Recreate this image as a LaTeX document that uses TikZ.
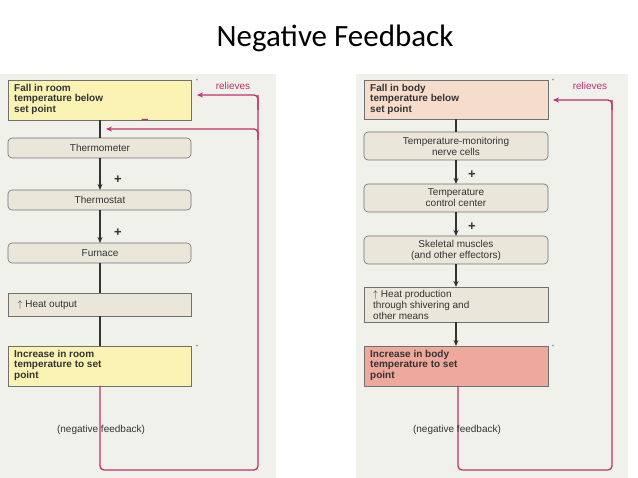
\documentclass[tikz,border=0pt]{standalone}
\usepackage{fontspec}
\setmainfont{Liberation Sans}
\newfontfamily\titlefont{Carlito}
\usetikzlibrary{arrows.meta}
\definecolor{paper}{HTML}{F1F1EC}
\definecolor{yel}{HTML}{FBF3B4}
\definecolor{peach}{HTML}{F6DCCB}
\definecolor{pinkbox}{HTML}{EEA89C}
\definecolor{gbox}{HTML}{EAE6DA}
\definecolor{mag}{HTML}{C0306E}
\definecolor{ink}{HTML}{333333}
\begin{document}
\begin{tikzpicture}[x=1pt,y=-1pt,
  every node/.style={font=\fontsize{10}{11}\selectfont, text=ink},
  box/.style={draw=ink!70, line width=0.6pt, inner sep=0pt},
  rbox/.style={box, fill=gbox, rounded corners=4pt},
  hd/.style={font=\fontsize{10}{10.5}\selectfont\bfseries, align=left, anchor=north west, inner sep=0pt},
  arr/.style={-{Stealth[length=6pt,width=5pt]}, line width=2pt, draw=ink},
  fb/.style={mag, line width=1.3pt, rounded corners=4pt},
  fba/.style={fb, -{Stealth[length=6pt,width=5pt]}},
  pl/.style={font=\fontsize{13}{13}\selectfont\bfseries}]
\useasboundingbox (0,0) rectangle (638,478);
\fill[white] (0,0) rectangle (638,478);
\node[font=\titlefont\fontsize{31}{33}\selectfont, text=black] (title) at (335,38) {Negative Feedback};
\fill[paper] (0,74) rectangle (276,478);
\fill[paper] (356,74) rectangle (628,478);
% ---- left
\draw[box, fill=yel] (8,80) rectangle (191,120);
\node[hd] (l1) at (14,84) {Fall in room\\temperature below\\set point};
\draw[rbox] (8,138) rectangle (191,158); \node (l2) at (100,148) {Thermometer};
\draw[rbox] (8,190) rectangle (191,210); \node (l3) at (100,200) {Thermostat};
\draw[rbox] (8,243) rectangle (191,263); \node (l4) at (100,253) {Furnace};
\draw[box, fill=gbox] (8,293) rectangle (191,316); \node[anchor=west] (l5) at (14,305) {$\uparrow$ Heat output};
\draw[box, fill=yel] (8,346) rectangle (191,386);
\node[hd] (l6) at (14,350) {Increase in room\\temperature to set\\point};
\draw[line width=2pt, ink] (100,120) -- (100,138);
\draw[arr] (100,158) -- (100,190); \node[pl] at (118,180) {+};
\draw[arr] (100,210) -- (100,243); \node[pl] at (118,233) {+};
\draw[line width=2pt, ink] (100,263) -- (100,293);
\draw[line width=2pt, ink] (100,316) -- (100,346);
\draw[fb] (100,386) -- (100,470) -- (258,470) -- (258,95);
\draw[fba] (258,110) -- (258,95) -- (197,95);
\draw[fba] (258,140) -- (258,129) -- (106,129);
\node[pl, text=mag] at (145,121) {--};
\node[text=mag] at (233,86) {relieves};
\node at (197,81) {\tiny *}; \node at (197,347) {\tiny *};
\node (lnf) at (101,430) {(negative feedback)};
% ---- right
\draw[box, fill=peach] (364,80) rectangle (548,119);
\node[hd] (r1) at (370,84) {Fall in body\\temperature below\\set point};
\draw[rbox] (364,132) rectangle (548,160); \node[align=center] (r2) at (456,146) {Temperature-monitoring\\nerve cells};
\draw[rbox] (364,184) rectangle (548,212); \node[align=center] (r3) at (456,198) {Temperature\\control center};
\draw[rbox] (364,236) rectangle (548,264); \node[align=center] (r4) at (456,250) {Skeletal muscles\\(and other effectors)};
\draw[box, fill=gbox] (364,287) rectangle (548,322);
\node[align=left, anchor=north west, inner sep=0pt] (r5) at (373,290) {$\uparrow$ Heat production\\through shivering and\\other means};
\draw[box, fill=pinkbox] (364,346) rectangle (548,386);
\node[hd] (r6) at (370,350) {Increase in body\\temperature to set\\point};
\draw[line width=2pt, ink] (456,119) -- (456,132);
\draw[arr] (456,160) -- (456,184); \node[pl] at (472,175) {+};
\draw[arr] (456,212) -- (456,236); \node[pl] at (472,227) {+};
\draw[arr] (456,264) -- (456,287);
\draw[arr] (456,322) -- (456,346);
\draw[fb] (458,386) -- (458,470) -- (612,470) -- (612,100);
\draw[fba] (612,110) -- (612,100) -- (553,100);
\node[text=mag] at (590,86) {relieves};
\node at (553,81) {\tiny *}; \node at (553,347) {\tiny *};
\node (rnf) at (457,430) {(negative feedback)};
\end{tikzpicture}
\end{document}
